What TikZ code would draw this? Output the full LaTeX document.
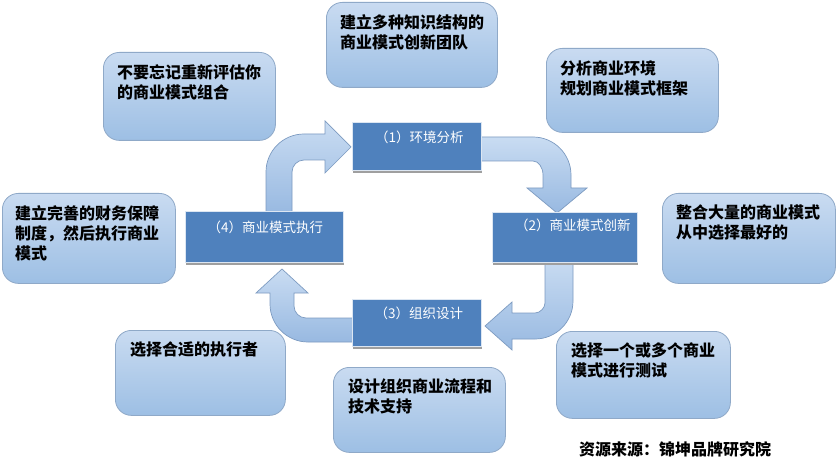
\documentclass[tikz,border=0pt]{standalone}
\usepackage{fontspec}
\newfontfamily\cjk{Noto Sans CJK SC}
\usetikzlibrary{shadows}
\definecolor{boxblue}{HTML}{4F81BD}
\definecolor{lighttop}{HTML}{C9DBF1}
\definecolor{lightbot}{HTML}{9DBFE4}
\definecolor{lightedge}{HTML}{8FA9C8}
\definecolor{arrtop}{HTML}{C9DCF2}
\definecolor{arrbot}{HTML}{98B9E1}
\definecolor{arredge}{HTML}{7D9BC1}
\begin{document}
\begin{tikzpicture}[x=1pt,y=-1pt,
  lbox/.style={draw=lightedge, line width=0.8pt, rounded corners=16pt, top color=lighttop, bottom color=lightbot, anchor=north west, inner sep=0pt},
  ltext/.style={anchor=north west, inner sep=0pt, align=left, font=\cjk\bfseries\fontsize{16}{20}\selectfont},
  sbox/.style={fill=boxblue, draw=white!80!boxblue, line width=0.8pt, anchor=north west, inner sep=0pt, drop shadow={shadow xshift=0.5pt, shadow yshift=-2.5pt, fill=gray!75, opacity=1}},
  stext/.style={text=white, inner sep=0pt, font=\cjk\fontsize{13.5}{16}\selectfont},
  barrow/.style={draw=arredge, line width=0.7pt, top color=arrtop, bottom color=arrbot}
]
\fill[white] (0,0) rectangle (838,465);
\useasboundingbox (0,0) rectangle (838,465);

% bent block arrows
\path[barrow] (266,214) -- (266,172) .. controls (266,151) and (283,134) .. (304,134) -- (325,134) -- (325,121) -- (351,147) -- (325,173) -- (325,160) -- (304,160) .. controls (297.4,160) and (292,165.4) .. (292,172) -- (292,214) -- cycle;
\path[barrow] (476,137) -- (533,137) .. controls (554,137) and (571,154) .. (571,175) -- (571,188) -- (587,188) -- (557,213) -- (527,188) -- (543,188) -- (543,175) .. controls (543,167.3) and (538.5,161) .. (533,161) -- (476,161) -- cycle;
\path[barrow] (545,258) -- (573,258) -- (573,301) .. controls (573,322) and (556,339) .. (535,339) -- (512,339) -- (512,350) -- (485,326) -- (512,302) -- (512,313) -- (535,313) .. controls (540.5,313) and (545,307.5) .. (545,303) -- cycle;
\path[barrow] (358,342) -- (308,342) .. controls (287,342) and (270,325) .. (270,304) -- (270,293) -- (256,293) -- (282,269) -- (308,293) -- (294,293) -- (294,306) .. controls (294,312.6) and (299.4,318) .. (306,318) -- (358,318) -- cycle;

% step boxes
\node[sbox, minimum width=129pt, minimum height=48pt] (s1) at (352,122) {};
\node[sbox, minimum width=145pt, minimum height=50pt] (s2) at (492,212) {};
\node[sbox, minimum width=158pt, minimum height=51pt] (s4) at (185,211) {};
\node[sbox, minimum width=129pt, minimum height=47pt] (s3) at (352,299) {};
\node[stext] (s1t) at ([shift={(2.5,15)}]s1.north) {（1）环境分析};
\node[stext] (s2t) at ([shift={(8,13)}]s2.north) {（2）商业模式创新};
\node[stext] (s4t) at ([shift={(1,16)}]s4.north) {（4）商业模式执行};
\node[stext] (s3t) at ([shift={(2,14)}]s3.north) {（3）组织设计};

% note boxes
\node[lbox, minimum width=171pt, minimum height=85pt] (nt) at (326,2) {};
\node[lbox, minimum width=172pt, minimum height=88pt] (ntl) at (103,52) {};
\node[lbox, minimum width=172pt, minimum height=84pt] (ntr) at (546,48) {};
\node[lbox, minimum width=173pt, minimum height=90pt] (nl) at (2,193) {};
\node[lbox, minimum width=173pt, minimum height=90pt] (nr) at (662,193) {};
\node[lbox, minimum width=170pt, minimum height=85pt] (nbl) at (115,330) {};
\node[lbox, minimum width=172pt, minimum height=85pt] (nb) at (333,367) {};
\node[lbox, minimum width=174pt, minimum height=87pt] (nbr) at (556,331) {};

\node[ltext] (ntx) at ([shift={(14,12)}]nt.north west) {建立多种知识结构的\\商业模式创新团队};
\node[ltext] (ntlx) at ([shift={(14,12)}]ntl.north west) {不要忘记重新评估你\\的商业模式组合};
\node[ltext] (ntrx) at ([shift={(14,12)}]ntr.north west) {分析商业环境\\规划商业模式框架};
\node[ltext] (nlx) at ([shift={(13,12)}]nl.north west) {建立完善的财务保障\\制度，然后执行商业\\模式};
\node[ltext] (nrx) at ([shift={(14,12)}]nr.north west) {整合大量的商业模式\\从中选择最好的};
\node[ltext] (nblx) at ([shift={(15,12)}]nbl.north west) {选择合适的执行者};
\node[ltext] (nbx) at ([shift={(15,12)}]nb.north west) {设计组织商业流程和\\技术支持};
\node[ltext] (nbrx) at ([shift={(15,12)}]nbr.north west) {选择一个或多个商业\\模式进行测试};

\node[inner sep=0pt, font=\cjk\bfseries\fontsize{16}{18}\selectfont] (src) at (675,449) {资源来源：锦坤品牌研究院};
\end{tikzpicture}
\end{document}
